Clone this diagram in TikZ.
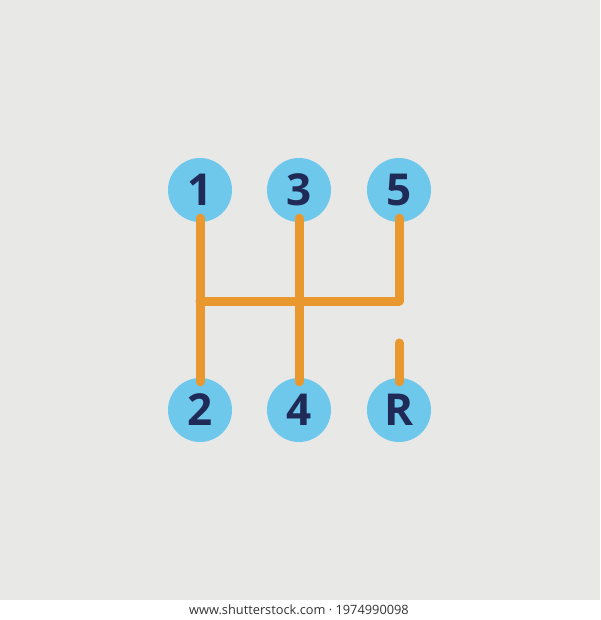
\documentclass[tikz,border=0pt]{standalone}
\usepackage{fontspec}
\setmainfont{Open Sans}
\newfontfamily\urlfont{Open Sans}
\definecolor{bgc}{HTML}{E8E8E7}
\definecolor{knob}{HTML}{6DC8EC}
\definecolor{navy}{HTML}{1F2A56}
\definecolor{gearline}{HTML}{E9982F}
\definecolor{urlc}{HTML}{333333}
\begin{document}
\begin{tikzpicture}[x=1pt,y=-1pt,
  knobnode/.style={circle,fill=knob,minimum size=64pt,inner sep=0pt,text=navy,
    font=\fontsize{44}{44}\selectfont\bfseries},
  gearpath/.style={draw=gearline,line width=9pt,line cap=round,line join=round}]
\useasboundingbox (0,0) rectangle (600,620);
\fill[bgc] (0,0) rectangle (600,600);
\fill[white] (0,600) rectangle (600,620);
\node[knobnode] (n1) at (200,190) {1};
\node[knobnode] (n3) at (299,190) {3};
\node[knobnode] (n5) at (399,190) {5};
\node[knobnode] (n2) at (200,410) {2};
\node[knobnode] (n4) at (299,410) {4};
\node[knobnode] (nR) at (399,410) {R};
\coordinate (mid) at (299,301);
\coordinate (rs) at (399,343);
\draw[gearpath,shorten <=-4pt,shorten >=-4pt] (n1) -- (n2);
\draw[gearpath,shorten <=-4pt,shorten >=-4pt] (n3) -- (n4);
\draw[gearpath,shorten >=-4pt] (n1 |- mid) -- (mid -| n5) -- (n5);
\draw[gearpath,shorten >=-4pt] (rs) -- (nR);
\node[text=urlc,font=\urlfont\fontsize{12.8}{12.8}\selectfont] (url) at (299,610) {www.shutterstock.com · 1974990098};
\end{tikzpicture}
\end{document}
